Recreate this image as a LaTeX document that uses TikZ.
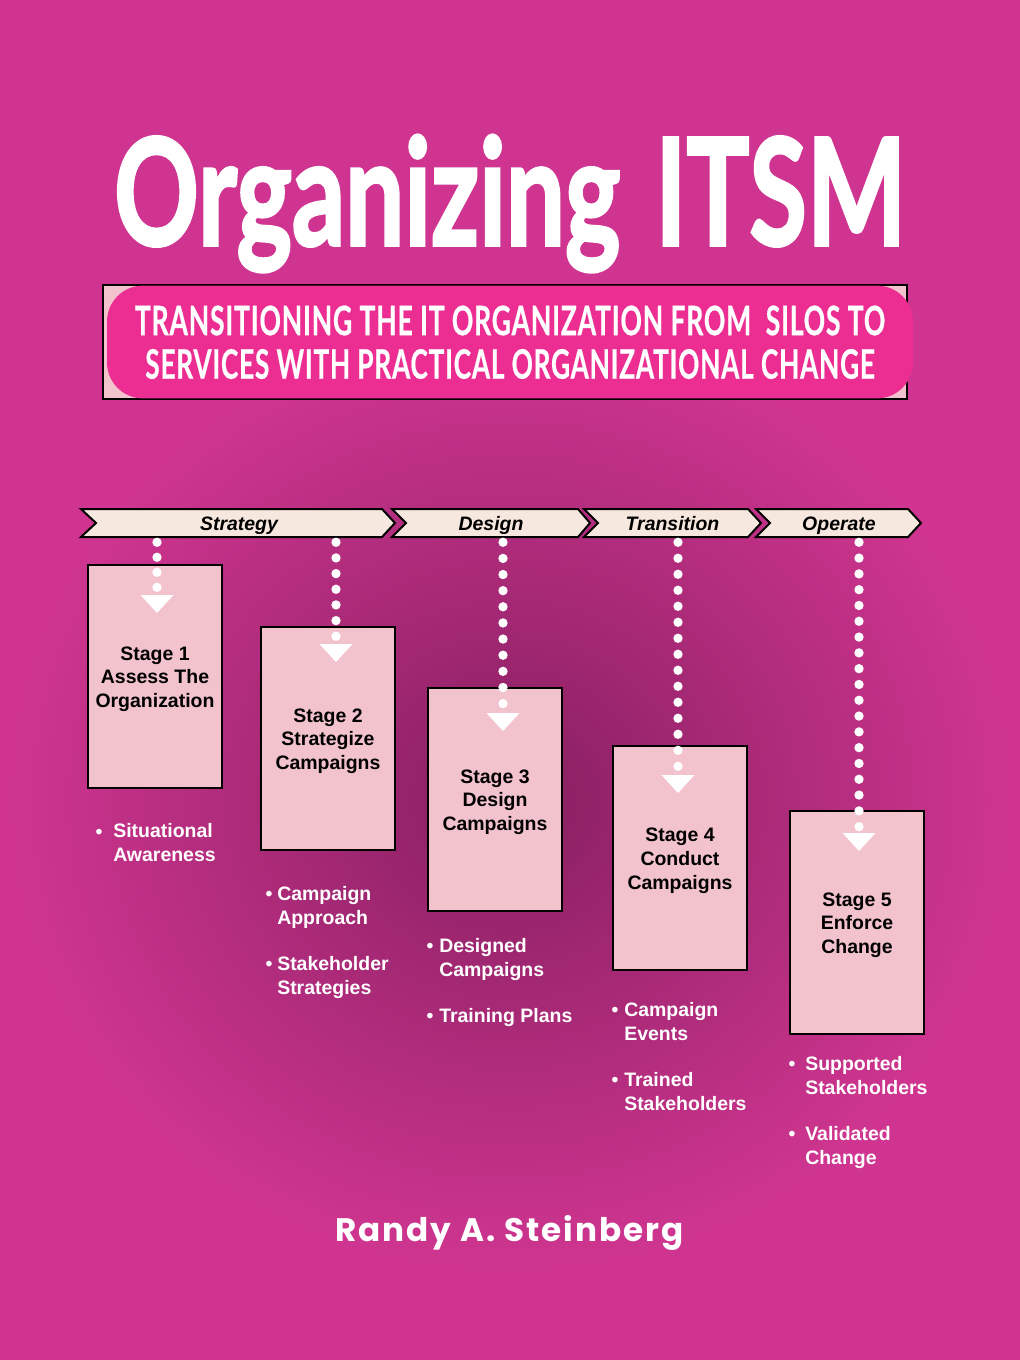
\documentclass[tikz,border=0pt]{standalone}
\usepackage{fontspec}
\setmainfont{Liberation Sans}
\newfontfamily\titlefont{Lato}[BoldFeatures={FakeBold=2.2}]
\newfontfamily\subfont{Lato}[LetterSpace=3,BoldFeatures={FakeBold=0.6}]
\newfontfamily\authorfont{Poppins}[LetterSpace=6]
\definecolor{bgout}{HTML}{CF3590}
\definecolor{bgin}{HTML}{8F2266}
\definecolor{boxpink}{HTML}{F3C3CD}
\definecolor{hotpink}{HTML}{EC2E92}
\definecolor{chevfill}{HTML}{F7E8DF}
\pgfdeclareradialshading{bgshade}{\pgfpoint{0bp}{0bp}}{color(0bp)=(bgin); color(3bp)=(bgin); color(25bp)=(bgout); color(50bp)=(bgout)}
\newcommand{\bodyfont}{\fontsize{14.6}{17.7}\selectfont\bfseries}
\newcommand{\stagetop}{\rule{0pt}{14.2pt}}
\tikzset{
  x=0.75pt,y=-0.75pt,
  stagebox/.style={draw=black,line width=1.5pt,fill=boxpink,minimum width=100.5pt,minimum height=167.5pt,inner sep=0pt,align=center,font=\bodyfont},
  chevshape/.style={draw=black,line width=1.5pt,fill=chevfill,line join=miter},
  chevlabel/.style={inner sep=0pt,minimum height=21pt,text height=10.5pt,text depth=0pt,font=\fontsize{14.6}{17}\selectfont\bfseries\itshape},
  dots/.style={draw=white,line width=7pt,line cap=round,dash pattern=on 0pt off #1,shorten <=3.75pt},
  pointer/.style={fill=white,draw=none},
  bullet/.style={text=white,inner sep=0pt,font=\bodyfont},
  outcome/.style={text=white,inner sep=0pt,anchor=west,align=left,font=\bodyfont},
  bigtext/.style={text=white,inner sep=0pt},
}
\newcommand{\pointerat}[1]{\fill[pointer] (#1) ++(-16.5,0) -- ++(33,0) -- ++(-16.5,18) -- cycle;}
\begin{document}
\begin{tikzpicture}
\useasboundingbox (0,0) rectangle (1020,1360);
\fill[bgout] (0,0) rectangle (1020,1360);
\shade[shading=bgshade] (510,800) ellipse [x radius=500,y radius=470];

% title
\node[bigtext] (title) at (510,203.5) {\resizebox*{593.5pt}{102.75pt}{\titlefont\bfseries Organizing\hspace{0.09em} ITSM}};

% banner
\path[draw=black,line width=1.5pt,fill=boxpink] (103,285) rectangle (907,399);
\fill[hotpink,rounded corners=27pt] (107,285.6) rectangle (913,398.4);
\node[bigtext] (sub1) at (510,320.5) {\resizebox*{562.5pt}{22.5pt}{\subfont\bfseries TRANSITIONING THE IT ORGANIZATION FROM\ \ SILOS TO}};
\node[bigtext] (sub2) at (510,364) {\resizebox*{547pt}{22.5pt}{\subfont\bfseries SERVICES WITH PRACTICAL ORGANIZATIONAL CHANGE}};

% chevrons
\path[chevshape] (81,509) -- (382,509) -- (395,523) -- (382,537) -- (81,537) -- (96,523) -- cycle;
\path[chevshape] (392,509) -- (578,509) -- (590,523) -- (578,537) -- (392,537) -- (406,523) -- cycle;
\path[chevshape] (584,509) -- (748,509) -- (761,523) -- (748,537) -- (584,537) -- (598,523) -- cycle;
\path[chevshape] (756,509) -- (908,509) -- (921,523) -- (908,537) -- (756,537) -- (770,523) -- cycle;
\node[chevlabel] (chevS) at (239,523) {Strategy};
\node[chevlabel] (chevD) at (491,523) {Design};
\node[chevlabel] (chevT) at (672.5,523) {Transition};
\node[chevlabel] (chevO) at (839,523) {Operate};

% stages
\node[stagebox] (st1) at (155,676.3) {\stagetop Stage 1\\Assess The\\Organization};
\node[stagebox] (st2) at (328,738.3) {\stagetop Stage 2\\Strategize\\Campaigns};
\node[stagebox] (st3) at (495,799.3) {\stagetop Stage 3\\Design\\Campaigns};
\node[stagebox] (st4) at (680,858) {\stagetop Stage 4\\Conduct\\Campaigns};
\node[stagebox] (st5) at (857,922.3) {\stagetop Stage 5\\Enforce\\Change};

% connectors
\coordinate (arr1) at (157,595);
\coordinate (arr2) at (336,644);
\coordinate (arr3) at (503,713);
\coordinate (arr4) at (678,775);
\coordinate (arr5) at (859,833);
\draw[dots=11.25pt] (chevS.south -| arr1) -- (arr1);
\draw[dots=11.75pt] (chevS.south -| arr2) -- (arr2);
\draw[dots=12.1pt] (chevD.south -| arr3) -- (arr3);
\draw[dots=12pt] (chevT.south -| arr4) -- (arr4);
\draw[dots=11.85pt] (chevO.south -| arr5) -- (arr5);
\pointerat{arr1}
\pointerat{arr2}
\pointerat{arr3}
\pointerat{arr4}
\pointerat{arr5}

% outcomes
\node[bullet] (b1a) at (99,834) {•};
\node[outcome] (o1a) at (113,845) {\strut Situational\\\strut Awareness};
\node[bullet] (b2a) at (269,896) {•};
\node[outcome] (o2a) at (277,908) {\strut Campaign\\\strut Approach};
\node[bullet] (b2b) at (269,966) {•};
\node[outcome] (o2b) at (277,978) {\strut Stakeholder\\\strut Strategies};
\node[bullet] (b3a) at (430,948) {•};
\node[outcome] (o3a) at (439,959.5) {\strut Designed\\\strut Campaigns};
\node[bullet] (b3b) at (430,1018) {•};
\node[outcome] (o3b) at (439,1017.5) {\strut Training Plans};
\node[bullet] (b4a) at (615,1012) {•};
\node[outcome] (o4a) at (624,1023.5) {\strut Campaign\\\strut Events};
\node[bullet] (b4b) at (615,1082) {•};
\node[outcome] (o4b) at (624,1094) {\strut Trained\\\strut Stakeholders};
\node[bullet] (b5a) at (792,1066) {•};
\node[outcome] (o5a) at (805,1077.5) {\strut Supported\\\strut Stakeholders};
\node[bullet] (b5b) at (792,1136) {•};
\node[outcome] (o5b) at (805,1148) {\strut Validated\\\strut Change};

% author
\node[bigtext] (author) at (509.5,1232.5) {\resizebox*{261pt}{26.25pt}{\authorfont\bfseries Randy A. Steinberg}};
\end{tikzpicture}
\end{document}
